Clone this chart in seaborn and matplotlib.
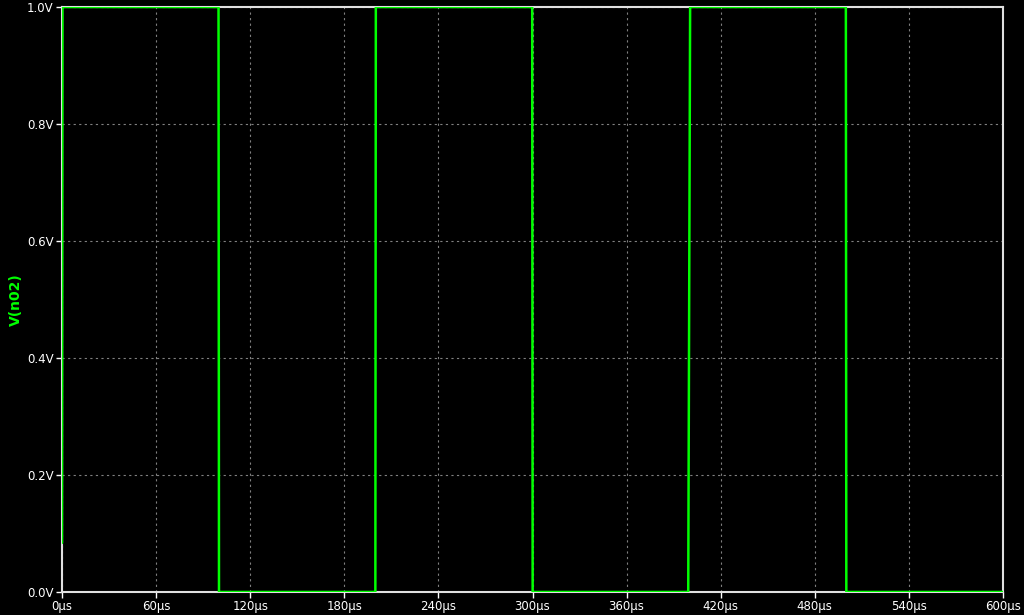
import pandas as pd
import matplotlib
matplotlib.use('Agg')
import matplotlib.pyplot as plt
import seaborn as sns

# waveform (time in us, volts)
time_us = [0, 0.3, 99.8, 100.1, 199.8, 200.1, 299.8, 300.1, 399.3, 400.5, 499.8, 500.1, 600]
volts = [0.084, 1.0, 1.0, 0.0, 0.0, 1.0, 1.0, 0.0, 0.0, 1.0, 1.0, 0.0, 0.0]
x_ticks = [0, 60, 120, 180, 240, 300, 360, 420, 480, 540, 600]
y_ticks = [0.0, 0.2, 0.4, 0.6, 0.8, 1.0]

df = pd.DataFrame({'t': time_us, 'v': volts})

sns.set_style('dark', {'axes.facecolor': 'black', 'figure.facecolor': 'black',
                       'axes.edgecolor': 'white', 'grid.color': '#808080'})
plt.rcParams['font.family'] = ['DejaVu Sans']

fig = plt.figure(figsize=(10.24, 6.15), dpi=100)
ax = fig.add_axes([62 / 1024, 23 / 615, 941 / 1024, 585 / 615])

sns.lineplot(data=df, x='t', y='v', ax=ax, color='#00ff00', linewidth=1.8, zorder=5)

ax.set_xlim(0, 600)
ax.set_ylim(0, 1.0)
ax.set_xticks(x_ticks)
ax.set_xticklabels([f'{x}µs' for x in x_ticks])
ax.set_yticks(y_ticks)
ax.set_yticklabels([f'{y:.1f}V' for y in y_ticks])
ax.grid(True, color='#808080', linestyle=(0, (2, 3)), linewidth=0.8)
ax.tick_params(colors='white', labelcolor='white', labelsize=8.5, length=4, width=1,
               bottom=True, left=True, direction='out', pad=2)
for s in ax.spines.values():
    s.set_color('#e0e0e0')
    s.set_linewidth(1.5)
    s.set_visible(True)

ax.set_xlabel('')
ax.set_ylabel('V(n02)', color='#00ff00', fontsize=10, fontweight='bold')
ax.yaxis.set_label_coords(-0.042, 0.5)

fig.savefig('out.png', dpi=100, facecolor='black')
